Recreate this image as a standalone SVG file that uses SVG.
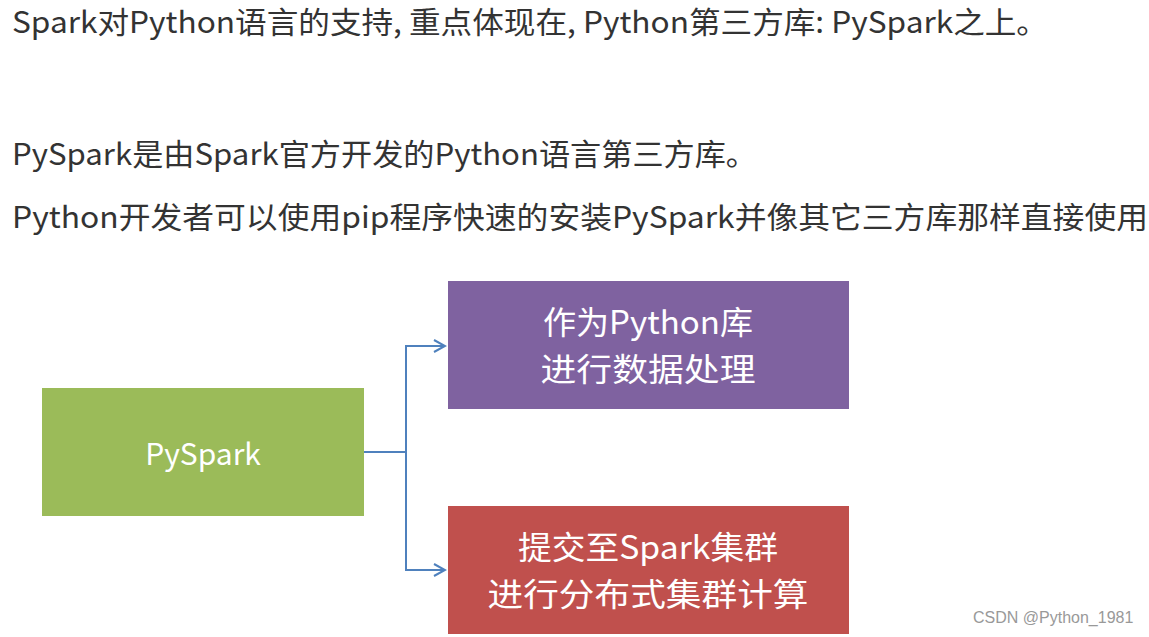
<svg xmlns="http://www.w3.org/2000/svg" width="1149" height="637" viewBox="0 0 1149 637">
<defs>
<style>
.t{font-family:"Noto Sans CJK SC","Noto Sans",sans-serif;font-size:30px;fill:#333333}
.n{font-family:"Noto Sans CJK SC","Noto Sans",sans-serif;font-size:32px;fill:#ffffff;text-anchor:middle}
.p{font-size:30px}
.c{fill:none;stroke:#4f81bd;stroke-width:2}
</style>
<marker id="ah" markerWidth="14" markerHeight="14" refX="12" refY="7" orient="auto" markerUnits="userSpaceOnUse">
<path d="M1,1 L12,7 L1,13" fill="none" stroke="#4f81bd" stroke-width="2"/>
</marker>
</defs>
<rect width="1149" height="637" fill="#ffffff"/>
<text class="t" x="12" y="33" textLength="1036" lengthAdjust="spacingAndGlyphs">Spark对Python语言的支持, 重点体现在, Python第三方库: PySpark之上。</text>
<text class="t" x="12" y="165" textLength="745" lengthAdjust="spacingAndGlyphs">PySpark是由Spark官方开发的Python语言第三方库。</text>
<text class="t" x="12" y="228" textLength="1136" lengthAdjust="spacingAndGlyphs">Python开发者可以使用pip程序快速的安装PySpark并像其它三方库那样直接使用</text>
<g id="connectors">
<path class="c" d="M364,452 H406"/>
<path class="c" d="M406,452 V346 H445" marker-end="url(#ah)"/>
<path class="c" d="M406,452 V570 H445" marker-end="url(#ah)"/>
</g>
<g id="pyspark">
<rect x="42" y="388" width="322" height="128" fill="#9bbb59"/>
<text class="n p" x="203" y="465">PySpark</text>
</g>
<g id="pylib">
<rect x="448" y="281" width="401" height="128" fill="#7f62a0"/>
<text class="n" x="648" y="334" textLength="210" lengthAdjust="spacingAndGlyphs">作为Python库</text>
<text class="n" x="648" y="381" textLength="215" lengthAdjust="spacingAndGlyphs">进行数据处理</text>
</g>
<g id="cluster">
<rect x="448" y="506" width="401" height="128" fill="#c0504d"/>
<text class="n" x="648" y="559" textLength="260" lengthAdjust="spacingAndGlyphs">提交至Spark集群</text>
<text class="n" x="648" y="606" textLength="321" lengthAdjust="spacingAndGlyphs">进行分布式集群计算</text>
</g>
<text x="973" y="623" font-family="Liberation Sans, Arial, sans-serif" font-size="16" fill="#999999">CSDN @Python_1981</text>
</svg>
